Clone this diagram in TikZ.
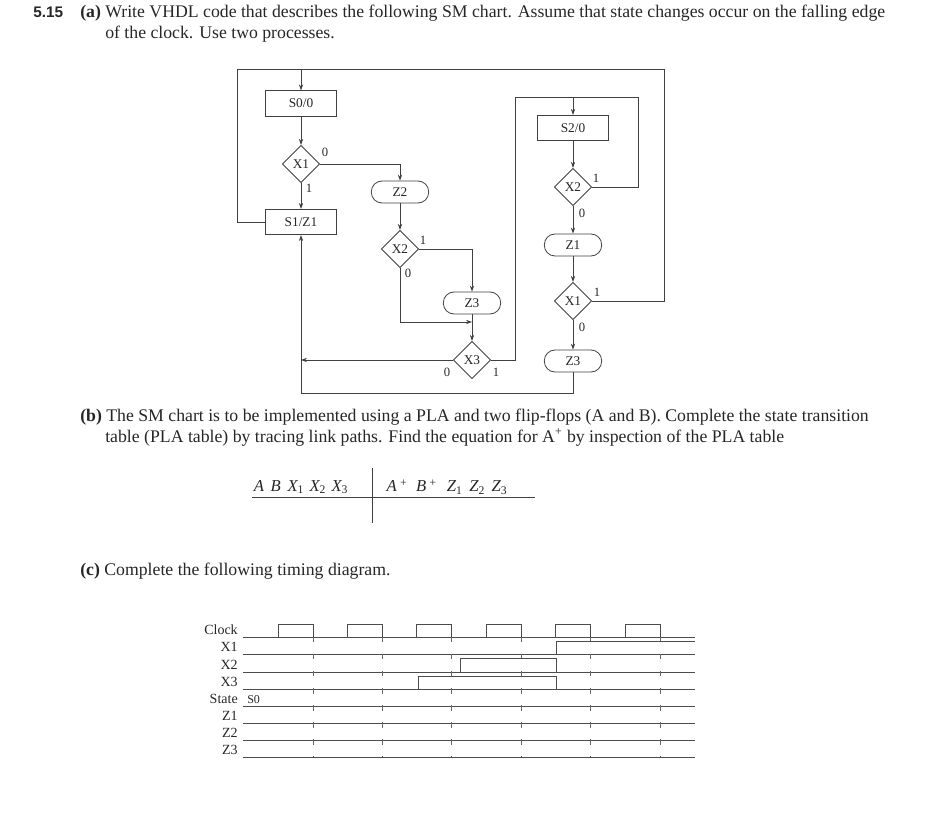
\documentclass[tikz,border=0pt]{standalone}
\usepackage{fontspec}
\setmainfont{Liberation Serif}
\newfontfamily\numfont{Liberation Sans}
\usetikzlibrary{shapes.geometric,arrows.meta}
\newcommand{\sbs}[1]{\textsubscript{\upshape#1}}

\begin{document}
\begin{tikzpicture}[x=0.75pt, y=-0.75pt, >={Stealth[length=4.5pt,width=3.2pt]},
  every node/.style={font=\fontsize{10}{12}\selectfont, text=black!85, inner sep=0pt},
  line/.style={draw=black!75, line width=0.6pt},
  state/.style={line, rectangle, minimum width=53pt, minimum height=19pt},
  cond/.style={line, diamond, minimum width=28pt, minimum height=28pt},
  outp/.style={line, rectangle, rounded corners=8pt, minimum width=43pt, minimum height=16.5pt},
  bit/.style={font=\fontsize{9.5}{11}\selectfont},
  body/.style={anchor=base west, font=\fontsize{13.3}{15}\selectfont},
  hdr/.style={font=\fontsize{12.5}{14}\selectfont\itshape},
  sig/.style={draw=black!70, line width=0.6pt},
  tick/.style={draw=black!60, line width=0.5pt, dash pattern=on 4pt off 8.8pt},
  tlab/.style={anchor=base east, font=\fontsize{10.5}{12}\selectfont}]
\useasboundingbox (0,0) rectangle (938,823);

% question text
\node[body, font=\numfont\bfseries\fontsize{11.5}{14}\selectfont] (qnum) at (33,18) {5.15};
\node[body] (qa1) at (80,18) {\textbf{(a)} Write VHDL code that describes the following SM chart. Assume that state changes occur on the falling edge};
\node[body] (qa2) at (105,39) {of the clock. Use two processes.};
\node[body] (qb1) at (80,421) {\textbf{(b)} The SM chart is to be implemented using a PLA and two flip-flops (A and B). Complete the state transition};
\node[body] (qb2) at (105,442) {table (PLA table) by tracing link paths. Find the equation for A\textsuperscript{+} by inspection of the PLA table};
\node[body] (qc) at (80,575) {\textbf{(c)} Complete the following timing diagram.};

% SM chart
\node[state] (s0) at (301,103.5) {S0/0};
\node[cond] (x1a) at (301,164) {X1};
\node[state] (s1) at (301,222) {S1/Z1};
\node[outp] (z2) at (400,192) {Z2};
\node[cond] (x2a) at (400,249) {X2};
\node[outp] (z3a) at (472,303) {Z3};
\node[cond] (x3) at (472,360) {X3};
\node[state] (s2) at (573,128) {S2/0};
\node[cond] (x2b) at (573,187) {X2};
\node[outp] (z1) at (573,245) {Z1};
\node[cond] (x1b) at (573,301) {X1};
\node[outp] (z3b) at (573,361) {Z3};

\coordinate (tl) at (237,69); \coordinate (tr) at (664,69);
\coordinate (il) at (515,97); \coordinate (ir) at (638,97);
\coordinate (bl) at (301,393);
\coordinate (jn) at (472,322);

\draw[line] (s1.west) -| (tl) -- (tr) |- (x1b.east);
\draw[line,->] (s0.north |- tl) -- (s0.north);
\draw[line,->] (s0) -- (x1a);
\draw[line,->] (x1a) -- (s1);
\draw[line,->] (x1a.east) -| (z2.north);
\draw[line,->] (z2) -- (x2a);
\draw[line,->] (x2a.east) -| (z3a.north);
\draw[line,->] (x2a.south) |- (jn);
\draw[line] (z3a) -- (jn);
\draw[line,->] (jn) -- (x3);
\draw[line,->] (x3.west) -- (x3.west -| s1.south);
\draw[line,->] (z3b) |- (bl) -- (s1);
\draw[line] (x3.east) -| (il) -- (ir) |- (x2b.east);
\draw[line,->] (s2.north |- il) -- (s2.north);
\draw[line,->] (s2) -- (x2b);
\draw[line,->] (x2b) -- (z1);
\draw[line,->] (z1) -- (x1b);
\draw[line,->] (x1b) -- (z3b);

\foreach \nm/\x/\y/\v in {x1a-0/325/152/0, x1a-1/309/188/1, x2a-1/423/240/1, x2a-0/408/273/0,
  x3-0/447/372/0, x3-1/496/372/1, x2b-1/596/178/1, x2b-0/582/213/0, x1b-1/597/292/1, x1b-0/582/327/0}
  \node[bit] (\nm) at (\x,\y) {\v};

% PLA table head
\node[hdr] (inhdr) at (301,487) {A\hspace{5pt}B\hspace{5pt}X\sbs{1}\hspace{4pt}X\sbs{2}\hspace{4pt}X\sbs{3}};
\node[hdr] (outhdr) at (447,487) {A\,\textsuperscript{+}\hspace{6pt}B\,\textsuperscript{+}\hspace{7pt}Z\sbs{1}\hspace{5pt}Z\sbs{2}\hspace{5pt}Z\sbs{3}};
\draw[line] (252,497) -- (535,497);
\draw[line] (372,468) -- (372,523);

% timing diagram
\foreach \y/\lab in {637/Clock,654/X1,672/X2,689/X3,706/State,723/Z1,740/Z2,757/Z3} {
  \node[tlab] (lab-\lab) at (238,\y-2.5) {\lab};
  \draw[sig] (243,\y) -- (695,\y);
}
\node[tlab, anchor=base west, font=\fontsize{9}{10}\selectfont] (st0) at (247,703.5) {S0};
\foreach \i in {0,...,5} {
  \draw[sig] (278+69.4*\i,637) |- (313+69.4*\i,624) -- (313+69.4*\i,637);
  \draw[tick] (313+69.4*\i,637) -- (313+69.4*\i,757);
}
\draw[sig] (556,654) |- (695,641);
\draw[sig] (460,672) |- (556,658) -- (556,672);
\draw[sig] (418,689) |- (556,676) -- (556,689);
\end{tikzpicture}
\end{document}
